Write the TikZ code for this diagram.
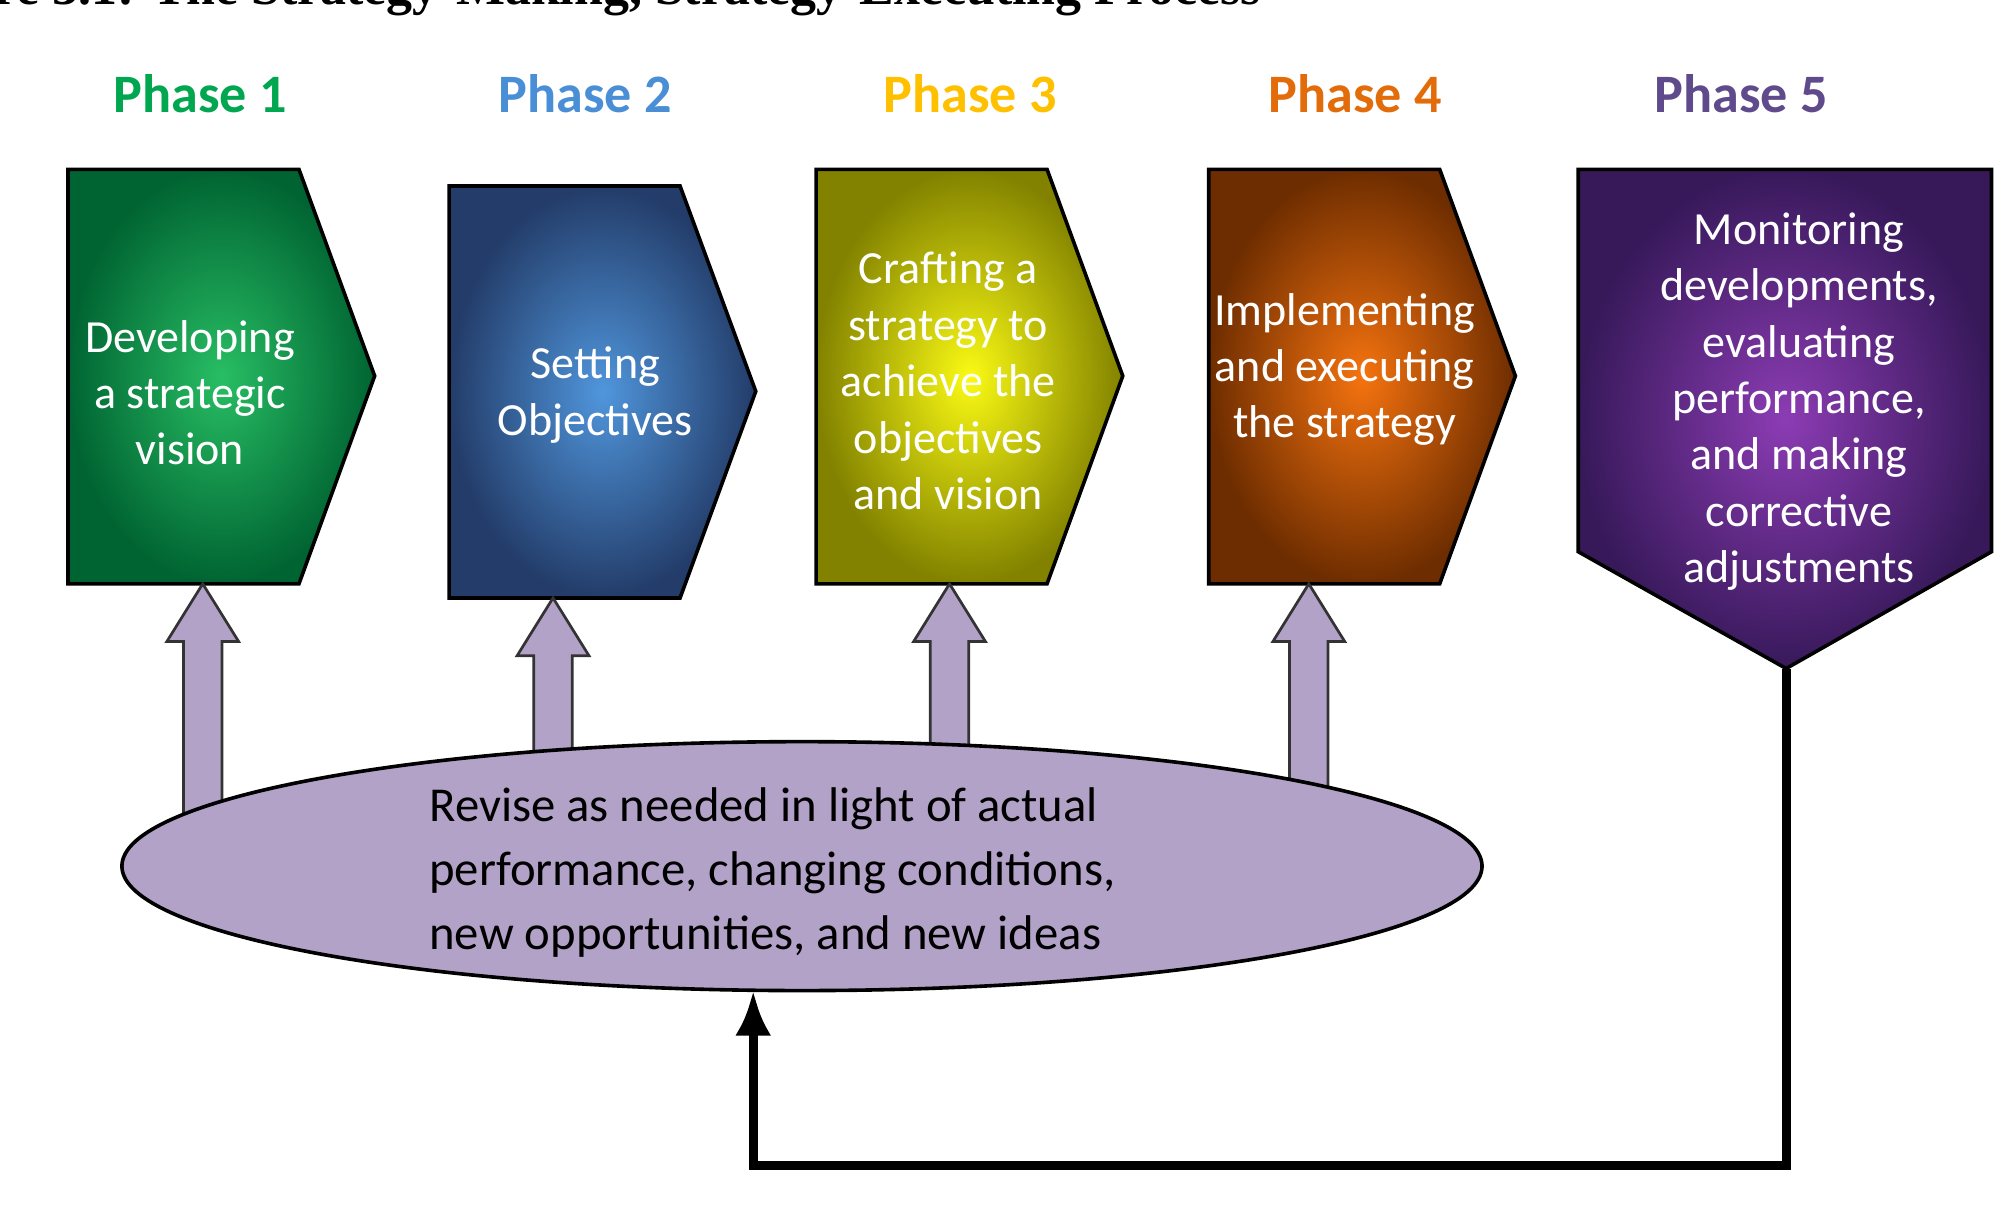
\documentclass[tikz,border=0pt]{standalone}
\usepackage{fontspec}
\setmainfont{Carlito}
\newfontfamily\serifb{Liberation Serif}
\usetikzlibrary{shapes.geometric,arrows.meta}
\definecolor{arrf}{HTML}{B3A2C8}
\tikzset{
 box/.style={draw=black, line width=0.8pt},
 boxtxt/.style={text=white, align=center, font=\fontsize{10.2}{12.5}\selectfont},
 ph/.style={font=\bfseries\fontsize{12}{14}\selectfont},
 uparr/.style={draw=black!80, fill=arrf, line width=0.6pt},
}
\begin{document}
\begin{tikzpicture}[x=0.01cm,y=-0.01cm]
\useasboundingbox (0,0) rectangle (1568,946);
\begin{scope}
\clip (0,0) rectangle (1568,946);
\node[font=\serifb\bfseries\fontsize{11.5}{14}\selectfont, anchor=east] (title) at (995,-6) {Figure 3.1: The Strategy-Making, Strategy-Executing Process};
\end{scope}
% phase labels
\node[ph, text={rgb,255:red,0;green,166;blue,80}] (p1) at (156,73) {Phase 1};
\node[ph, text={rgb,255:red,74;green,143;blue,214}] (p2) at (456,73) {Phase 2};
\node[ph, text={rgb,255:red,255;green,192;blue,0}] (p3) at (756,73) {Phase 3};
\node[ph, text={rgb,255:red,227;green,108;blue,10}] (p4) at (1056,73) {Phase 4};
\node[ph, text={rgb,255:red,95;green,75;blue,139}] (p5) at (1357,73) {Phase 5};
% boxes
\path[box, inner color={rgb,255:red,40;green,190;blue,100}, outer color={rgb,255:red,0;green,100;blue,50}]
 (53,132) -- (233,132) -- (292,293) -- (233,455) -- (53,455) -- cycle;
\node[boxtxt] (b1) at (148,306) {Developing\\a strategic\\vision};
\path[box, inner color={rgb,255:red,80;green,150;blue,220}, outer color={rgb,255:red,35;green,60;blue,105}]
 (350,145) -- (530,145) -- (589,305) -- (530,466) -- (350,466) -- cycle;
\node[boxtxt] (b2) at (464,308) {Setting\\Objectives};
\path[box, inner color={rgb,255:red,250;green,250;blue,20}, outer color={rgb,255:red,130;green,130;blue,0}]
 (636,132) -- (816,132) -- (875,293) -- (816,455) -- (636,455) -- cycle;
\node[boxtxt] (b3) at (739,297) {Crafting a\\strategy to\\achieve the\\objectives\\and vision};
\path[box, inner color={rgb,255:red,245;green,115;blue,15}, outer color={rgb,255:red,110;green,45;blue,0}]
 (942,132) -- (1122,132) -- (1181,293) -- (1122,455) -- (942,455) -- cycle;
\node[boxtxt] (b4) at (1048,288) {Implementing\\and executing\\the strategy};
\path[box, inner color={rgb,255:red,140;green,60;blue,180}, outer color={rgb,255:red,55;green,25;blue,90}]
 (1230,132) -- (1552,132) -- (1552,430) -- (1392,521) -- (1230,430) -- cycle;
\node[boxtxt] (b5) at (1402,313) {Monitoring\\developments,\\evaluating\\performance,\\and making\\corrective\\adjustments};
\coordinate (tip5) at (1392,521);
% up arrows
\foreach \c/\t/\b in {158/455/640, 431/466/595, 740/455/590, 1020/455/620}{
 \path[uparr] (\c-15,\b) -- (\c-15,\t+45) -- (\c-28,\t+45) -- (\c,\t) -- (\c+28,\t+45) -- (\c+15,\t+45) -- (\c+15,\b) -- cycle;
}
% ellipse
\draw[draw=black, line width=0.8pt, fill=arrf] (625,675) ellipse [x radius=530, y radius=97];
\node[align=left, anchor=center, font=\fontsize{10.8}{14.2}\selectfont] (et) at (602,680) {Revise as needed in light of actual\\performance, changing conditions,\\new opportunities, and new ideas};
\coordinate (c1) at (1392,908);
\coordinate (c2) at (587,908);
\coordinate (etip) at (587,772);
\draw[line width=2pt, -{Latex[length=10pt,width=8pt]}] (tip5) -- (c1) -- (c2) -- (etip);
\end{tikzpicture}
\end{document}
